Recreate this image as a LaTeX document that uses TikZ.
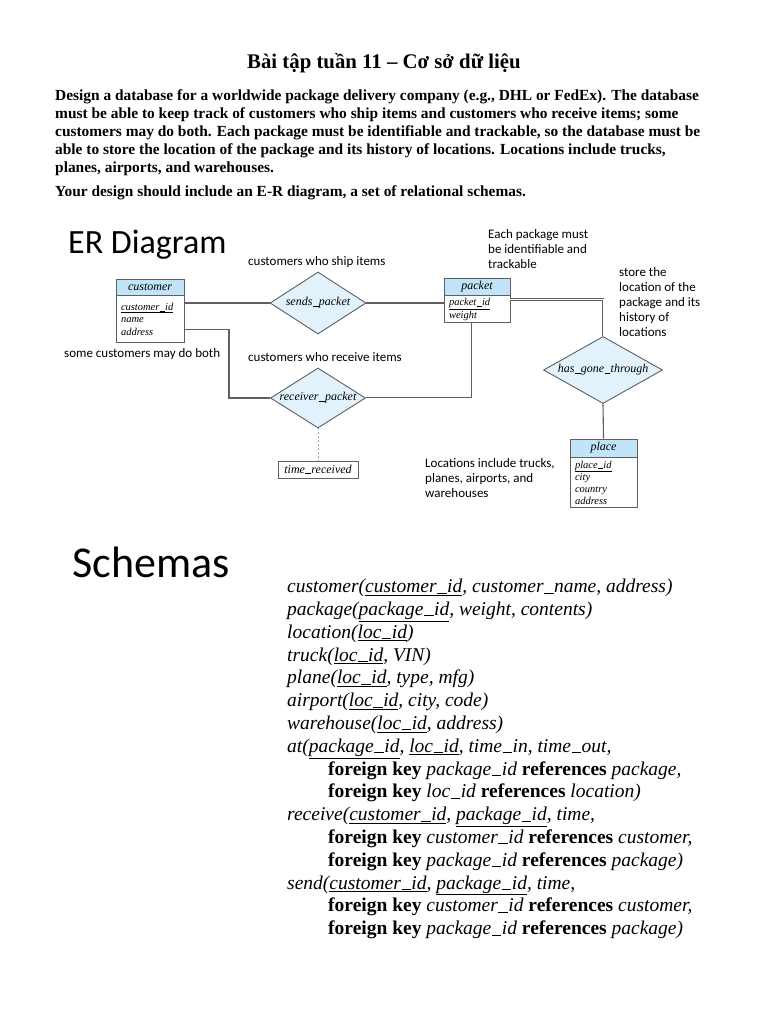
\documentclass[tikz,border=0pt]{standalone}
\usepackage{fontspec}
\setmainfont{Liberation Serif}
\newfontfamily\calib{Carlito}
\usetikzlibrary{positioning,shapes.geometric}
\definecolor{entblue}{RGB}{194,228,248}
\definecolor{relblue}{RGB}{226,242,252}
\definecolor{lgray}{RGB}{95,95,95}
\newcommand{\fk}{{\normalfont\bfseries foreign key}}
\newcommand{\refs}{{\normalfont\bfseries references}}
\newcommand{\pk}[1]{\underline{#1}}
\newcommand{\usc}{\kern0.03em\rule[-0.04em]{0.48em}{0.05em}\kern0.03em}

\begin{document}
\begin{tikzpicture}[x=1pt, y=-1pt, inner sep=0pt,
  note/.style={font=\calib\fontsize{13}{15}\selectfont, align=left},
  enthead/.style={draw=lgray, line width=0.9pt, fill=entblue, font=\itshape\fontsize{12}{12}\selectfont},
  entbody/.style={draw=lgray, line width=0.9pt, fill=white, align=left, inner xsep=5pt, font=\itshape\fontsize{10.5}{12.3}\selectfont},
  rel/.style={diamond, draw=lgray, line width=0.9pt, fill=relblue, font=\itshape\fontsize{12}{12}\selectfont},
  attrbox/.style={draw=lgray, line width=0.9pt, fill=white, font=\itshape\fontsize{12}{12}\selectfont},
  link/.style={draw=lgray, line width=1.1pt},
  total/.style={draw=lgray, line width=0.8pt, double=white, double distance=1pt}]
  \fill[white] (0,0) rectangle (768,1024);
  \useasboundingbox (0,0) rectangle (768,1024);

  % Task statement
  \node[anchor=base, font=\bfseries\fontsize{20.8}{24}\selectfont] (title) at (384,69) {Bài tập tuần 11 – Cơ sở dữ liệu};
  \node[anchor=north west, align=left, font=\bfseries\fontsize{15.4}{18}\selectfont] (task) at (55,89) {Design a database for a worldwide package delivery company (e.g., DHL or FedEx). The database\\
    must be able to keep track of customers who ship items and customers who receive items; some\\
    customers may do both. Each package must be identifiable and trackable, so the database must be\\
    able to store the location of the package and its history of locations. Locations include trucks,\\
    planes, airports, and warehouses.};
  \node[anchor=base west, font=\bfseries\fontsize{15.4}{18}\selectfont] (goal) at (55,197) {Your design should include an E-R diagram, a set of relational schemas.};

  % ER diagram
  \node[anchor=base west, font=\calib\fontsize{34}{40}\selectfont] (erhead) at (68,253) {ER Diagram};

  \node[enthead, minimum width=68, minimum height=16] (custhead) at (150,287) {customer};
  \node[entbody, text width=58, minimum height=47, below=0pt of custhead] (custbody) {\pk{customer\usc id}\\name\\address\\[2pt]};
  \node[enthead, minimum width=66, minimum height=17] (packhead) at (477,286.5) {packet};
  \node[entbody, text width=56, minimum height=27, below=0pt of packhead] (packbody) {\pk{packet\usc id}\\weight};
  \node[enthead, minimum width=67, minimum height=18] (placehead) at (603.5,448) {place};
  \node[entbody, text width=57, minimum height=50, below=0pt of placehead] (placebody) {\pk{place\usc id}\\city\\country\\address};

  \node[rel, aspect=1.55, minimum width=96, minimum height=62] (sends) at (318,303) {sends\usc packet};
  \node[rel, aspect=1.58, minimum width=95, minimum height=60] (recv) at (318,398) {receiver\usc packet};
  \node[rel, aspect=1.78, minimum width=119, minimum height=67] (hgt) at (603,370) {has\usc gone\usc through};
  \node[attrbox, minimum width=80, minimum height=17] (trecv) at (318,469.5) {time\usc received};

  \coordinate (custbend) at (229,398);
  \draw[link] (custbody.east |- sends.west) -- (sends.west);
  \draw[link] (sends.east) -- (sends.east -| packbody.west);
  \draw[link] ([yshift=14pt]custbody.south east) -| (custbend) -- (recv.west);
  \draw[total] (recv.east) -| ([xshift=-5pt]packbody.south);
  \draw[total] ([yshift=-4pt]packbody.north east) -| (hgt.north);
  \draw[link] (hgt.south) -- (placehead.north);
  \draw[gray!70, line width=1pt, dash pattern=on 2pt off 2pt] (recv.south) -- (trecv.north);

  \node[note, anchor=base west] (shipnote) at (248,265) {customers who ship items};
  \node[note, anchor=base west] (bothnote) at (64,357) {some customers may do both};
  \node[note, anchor=base west] (recvnote) at (248,361) {customers who receive items};
  \node[note, anchor=north west] (idnote) at (488,229) {Each package must\\be identifiable and\\trackable};
  \node[note, anchor=north west] (histnote) at (619,267) {store the\\location of the\\package and its\\history of\\locations};
  \node[note, anchor=north west] (locnote) at (425,458) {Locations include trucks,\\planes, airports, and\\warehouses};

  % Relational schemas
  \node[anchor=base west, font=\calib\fontsize{44}{50}\selectfont] (schhead) at (72,577) {Schemas};
  \node[anchor=north west, align=left, font=\itshape\fontsize{19.5}{22.8}\selectfont] (schemas) at (287,579) {customer(\pk{customer\usc id}, customer\usc name, address)\\
    package(\pk{package\usc id}, weight, contents)\\
    location(\pk{loc\usc id})\\
    truck(\pk{loc\usc id}, VIN)\\
    plane(\pk{loc\usc id}, type, mfg)\\
    airport(\pk{loc\usc id}, city, code)\\
    warehouse(\pk{loc\usc id}, address)\\
    at(\pk{package\usc id}, \pk{loc\usc id}, time\usc in, time\usc out,\\
    \hspace*{41pt}\fk{} package\usc id \refs{} package,\\
    \hspace*{41pt}\fk{} loc\usc id \refs{} location)\\
    receive(\pk{customer\usc id}, \pk{package\usc id}, time,\\
    \hspace*{41pt}\fk{} customer\usc id \refs{} customer,\\
    \hspace*{41pt}\fk{} package\usc id \refs{} package)\\
    send(\pk{customer\usc id}, \pk{package\usc id}, time,\\
    \hspace*{41pt}\fk{} customer\usc id \refs{} customer,\\
    \hspace*{41pt}\fk{} package\usc id \refs{} package)};
\end{tikzpicture}
\end{document}
